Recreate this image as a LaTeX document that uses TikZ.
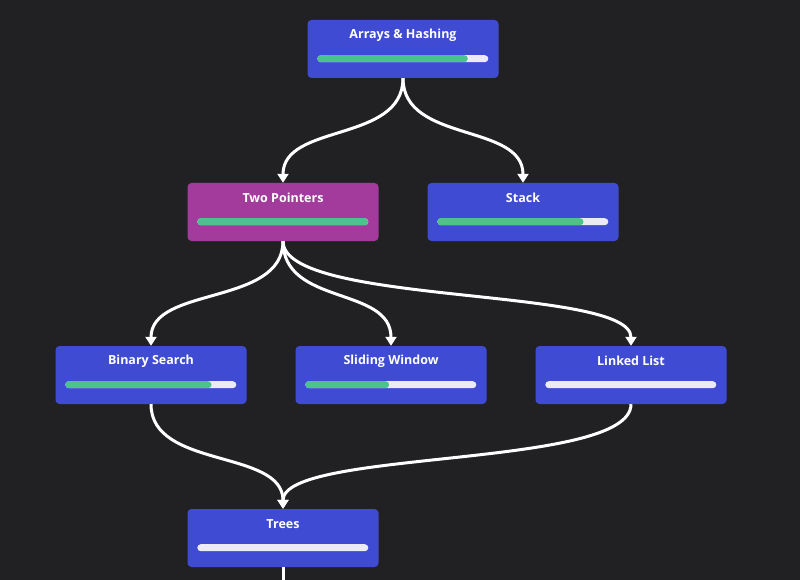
\documentclass[tikz,border=0pt]{standalone}
\usepackage{fontspec}
\setmainfont{Open Sans}
\usetikzlibrary{arrows.meta,calc}
\definecolor{bg}{HTML}{212124}
\definecolor{nblue}{HTML}{3F4BD2}
\definecolor{npurple}{HTML}{A33B9C}
\definecolor{bargreen}{HTML}{4CC38A}
\definecolor{bartrack}{HTML}{ECEAF2}
\tikzset{
 topic/.style={rounded corners=4pt, minimum width=191pt, minimum height=58pt, inner sep=0pt},
 lbl/.style={text=white, font=\bfseries\fontsize{12.5}{14}\selectfont},
 conn/.style={draw=white, line width=3pt, -{Triangle[length=9pt,width=11pt]}},
 bar/.style={rounded corners=3.5pt},
}
\newcommand{\tn}[6]{%
 \node[topic, fill=#4] (#1) at (#2,#3) {};
 \fill[bartrack, bar] ($(#1.south west)+(10,-16)$) rectangle ++(171,-7);
 \ifdim #5pt>0pt
 \fill[bargreen, bar] ($(#1.south west)+(10,-16)$) rectangle ++(#5*171,-7);
 \fi
 \node[lbl] (#1-t) at ($(#1.north)+(0,15)$) {#6};
}
\begin{document}
\begin{tikzpicture}[x=1pt,y=-1pt]
\useasboundingbox[fill=bg] (0,0) rectangle (800,580);
\tn{ah}{403}{49}{nblue}{0.88}{Arrays \& Hashing}
\tn{tp}{283}{212}{npurple}{1}{Two Pointers}
\tn{st}{523}{212}{nblue}{0.855}{Stack}
\tn{bs}{151}{375}{nblue}{0.855}{Binary Search}
\tn{sw}{391}{375}{nblue}{0.49}{Sliding Window}
\tn{ll}{631}{375}{nblue}{0}{Linked List}
\tn{tr}{283}{538}{nblue}{0}{Trees}
\coordinate (end) at (283,580);
\draw[conn] (ah.south) .. controls ++(0,65) and ($(tp.north)+(0,-60)$) .. (tp.north);
\draw[conn] (ah.south) .. controls ++(0,65) and ($(st.north)+(0,-60)$) .. (st.north);
\draw[conn] (tp.south) .. controls ++(0,65) and ($(bs.north)+(0,-60)$) .. (bs.north);
\draw[conn] (tp.south) .. controls ++(0,65) and ($(sw.north)+(0,-60)$) .. (sw.north);
\draw[conn] (tp.south) .. controls ++(0,65) and ($(ll.north)+(0,-60)$) .. (ll.north);
\draw[conn] (bs.south) .. controls ++(0,65) and ($(tr.north)+(0,-60)$) .. (tr.north);
\draw[conn] (ll.south) .. controls ++(0,65) and ($(tr.north)+(0,-60)$) .. (tr.north);
\draw[draw=white, line width=3pt] (tr.south) -- (end);
\end{tikzpicture}
\end{document}
